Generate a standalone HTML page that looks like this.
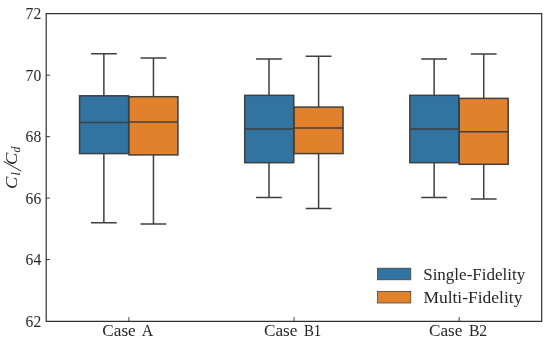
<!DOCTYPE html>
<html><head><meta charset="utf-8"><title>Boxplot</title>
<style>html,body{margin:0;padding:0;background:#fff}svg{display:block}text{font-family:"Liberation Serif","DejaVu Serif",serif;fill:#262626}</style></head>
<body>
<svg width="550" height="344" viewBox="0 0 550 344">
<rect width="550" height="344" fill="#fff"/>
<g stroke="#3f3f3f" stroke-width="1.5" fill="none"><rect x="79.57" y="95.80" width="49.05" height="57.80" fill="#3274a1"/><path stroke-linecap="square" d="M103.87 95.05V53.80M103.87 154.35V222.70M91.72 53.80H116.02M91.72 222.70H116.02"/><path d="M79.57 122.60H128.62"/></g>
<g stroke="#3f3f3f" stroke-width="1.5" fill="none"><rect x="128.97" y="96.70" width="48.95" height="58.20" fill="#e1812c"/><path stroke-linecap="square" d="M153.47 95.95V57.90M153.47 155.65V224.00M141.32 57.90H165.62M141.32 224.00H165.62"/><path d="M128.97 121.90H177.92"/></g>
<g stroke="#3f3f3f" stroke-width="1.5" fill="none"><rect x="244.70" y="95.35" width="49.05" height="67.35" fill="#3274a1"/><path stroke-linecap="square" d="M269.00 94.60V59.00M269.00 163.45V197.45M256.85 59.00H281.15M256.85 197.45H281.15"/><path d="M244.70 128.90H293.75"/></g>
<g stroke="#3f3f3f" stroke-width="1.5" fill="none"><rect x="294.10" y="107.10" width="48.95" height="46.50" fill="#e1812c"/><path stroke-linecap="square" d="M318.60 106.35V56.20M318.60 154.35V208.50M306.45 56.20H330.75M306.45 208.50H330.75"/><path d="M294.10 127.90H343.05"/></g>
<g stroke="#3f3f3f" stroke-width="1.5" fill="none"><rect x="409.83" y="95.35" width="49.05" height="67.35" fill="#3274a1"/><path stroke-linecap="square" d="M434.13 94.60V59.00M434.13 163.45V197.50M421.98 59.00H446.28M421.98 197.50H446.28"/><path d="M409.83 128.90H458.88"/></g>
<g stroke="#3f3f3f" stroke-width="1.5" fill="none"><rect x="459.23" y="98.40" width="48.95" height="65.90" fill="#e1812c"/><path stroke-linecap="square" d="M483.73 97.65V53.95M483.73 165.05V198.90M471.58 53.95H495.88M471.58 198.90H495.88"/><path d="M459.23 131.70H508.18"/></g>
<path d="M46.2 13.7H541.68V321.3H46.2Z" fill="none" stroke="#303030" stroke-width="1.2"/>
<g stroke="#262626" stroke-width="0.9"><path d="M46.2 259.54h3.8"/><path d="M46.2 198.08h3.8"/><path d="M46.2 136.62h3.8"/><path d="M46.2 75.16h3.8"/><path d="M128.92 321.3v-4.2"/><path d="M294.05 321.3v-4.2"/><path d="M459.18 321.3v-4.2"/></g>
<text x="25.6" y="326.60" font-size="17.1" textLength="15.6" lengthAdjust="spacingAndGlyphs">62</text><text x="25.6" y="265.14" font-size="17.1" textLength="15.6" lengthAdjust="spacingAndGlyphs">64</text><text x="25.6" y="203.68" font-size="17.1" textLength="15.6" lengthAdjust="spacingAndGlyphs">66</text><text x="25.6" y="142.22" font-size="17.1" textLength="15.6" lengthAdjust="spacingAndGlyphs">68</text><text x="25.6" y="80.76" font-size="17.1" textLength="15.6" lengthAdjust="spacingAndGlyphs">70</text><text x="25.6" y="19.30" font-size="17.1" textLength="15.6" lengthAdjust="spacingAndGlyphs">72</text>
<text x="102.35" y="336.35" font-size="17.3" textLength="33.4" lengthAdjust="spacingAndGlyphs">Case</text><text x="141.80" y="336.35" font-size="17.3" textLength="11.40" lengthAdjust="spacingAndGlyphs">A</text><text x="263.95" y="336.35" font-size="17.3" textLength="33.4" lengthAdjust="spacingAndGlyphs">Case</text><text x="303.90" y="336.35" font-size="17.3" textLength="17.40" lengthAdjust="spacingAndGlyphs">B1</text><text x="428.95" y="336.35" font-size="17.3" textLength="33.4" lengthAdjust="spacingAndGlyphs">Case</text><text x="468.90" y="336.35" font-size="17.3" textLength="18.30" lengthAdjust="spacingAndGlyphs">B2</text>
<g transform="translate(17.0,188.0) rotate(-90)" font-style="italic"><text transform="translate(-0.9,0) scale(1.08,1)" font-size="17">C</text><text x="12.4" y="2.7" font-size="11.8">l</text><text transform="translate(16.2,4.3) skewX(-17) scale(1,1.32)" font-size="20" font-style="normal" fill="#333">/</text><text transform="translate(23.0,0) scale(1.08,1)" font-size="17">C</text><text x="35.4" y="2.7" font-size="11.8">d</text></g>
<rect x="377.5" y="268.2" width="33.3" height="11.6" fill="#3274a1" stroke="#3f3f3f" stroke-width="0.75"/><rect x="377.5" y="291.35" width="33.3" height="11.65" fill="#e1812c" stroke="#3f3f3f" stroke-width="0.75"/><text x="423.2" y="279.6" font-size="17.3" textLength="102" lengthAdjust="spacingAndGlyphs">Single-Fidelity</text><text x="423.4" y="302.8" font-size="17.3" textLength="99" lengthAdjust="spacingAndGlyphs">Multi-Fidelity</text>
</svg>
</body></html>
